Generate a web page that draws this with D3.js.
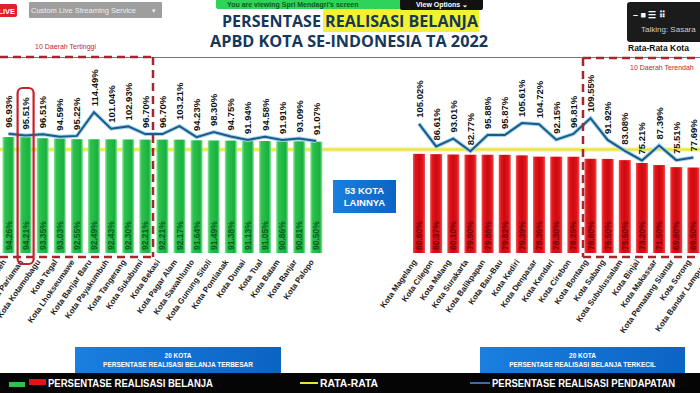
<!DOCTYPE html>
<html lang="en">
<head>
<meta charset="utf-8">
<title>Persentase Realisasi Belanja APBD Kota 2022</title>
<script src="https://cdn.jsdelivr.net/npm/d3@7"></script>
<style>
  body { margin: 0; background: #fff; }
  svg { display: block; font-family: "Liberation Sans", Arial, sans-serif; }
</style>
</head>
<body>
<script>
// 20 kota terbesar (kiri) - yang pertama terpotong di tepi layar
var topCities = ["Kota Banda Aceh", "Kota Pariaman", "Kota Kotamobagu", "Kota Tegal", "Kota Lhokseumawe",
  "Kota Banjar Baru", "Kota Payakumbuh", "Kota Tangerang", "Kota Sukabumi", "Kota Bekasi",
  "Kota Pagar Alam", "Kota Sawahlunto", "Kota Gunung Sitoli", "Kota Pontianak", "Kota Dumai",
  "Kota Tual", "Kota Batam", "Kota Banjar", "Kota Palopo"];
var topBelanja = [94.26, 94.21, 93.35, 93.03, 92.55, 92.49, 92.43, 92.30, 92.21, 92.21,
  92.17, 91.64, 91.49, 91.38, 91.13, 91.05, 90.86, 90.81, 90.50];
var topPendapatan = [96.93, 95.51, 96.51, 94.59, 95.22, 114.49, 101.04, 102.93, 96.70, 96.70,
  103.21, 94.23, 98.30, 94.75, 91.94, 94.58, 91.91, 93.09, 91.07];

// 20 kota terkecil (kanan) - sebagian terpotong di tepi kanan
var lowCities = ["Kota Magelang", "Kota Cilegon", "Kota Malang", "Kota Surakarta", "Kota Balikpapan",
  "Kota Bau-Bau", "Kota Kediri", "Kota Denpasar", "Kota Kendari", "Kota Cirebon",
  "Kota Bontang", "Kota Sabang", "Kota Subulussalam", "Kota Binjai", "Kota Makassar",
  "Kota Pematang Siantar", "Kota Sorong", "Kota Bandar Lampung"];
var lowBelanja = [80.60, 80.37, 80.10, 79.90, 79.88, 79.82, 79.39, 78.36, 78.30, 78.25,
  76.60, 76.50, 75.50, 73.20, 71.50, 69.80, 69.50];
var lowPendapatan = [105.02, 86.61, 93.01, 82.77, 95.88, 95.87, 105.61, 104.72, 92.15, 96.81,
  109.55, 91.92, 83.08, 75.21, 87.39, 75.51, 77.69];

var rataRata = 84.15;

var w = 700, h = 393;
var svg = d3.select("body").append("svg").attr("width", w).attr("height", h);
var defs = svg.append("defs");

function grad(id, stops) {
  var g = defs.append("linearGradient").attr("id", id)
    .attr("x1", 0).attr("x2", 1).attr("y1", 0).attr("y2", 0);
  stops.forEach(function(s) {
    g.append("stop").attr("offset", s[0]).attr("stop-color", s[1]);
  });
}
grad("gGreen", [[0, "#8fe6a0"], [0.2, "#2cc24c"], [0.8, "#19b03e"], [1, "#8fe6a0"]]);
grad("gRed", [[0, "#f25050"], [0.2, "#e4121a"], [0.5, "#c80c10"], [0.8, "#e4121a"], [1, "#f25050"]]);
grad("gBlue", [[0, "#1a7fe0"], [1, "#0b64c4"]]);

var y = d3.scaleLinear().domain([0, 100]).range([253, 130]);
var xTop = d3.scalePoint().domain(topCities).range([8.5, 8.5 + 18 * 17.1]);
var xLow = d3.scalePoint().domain(lowCities).range([419, 419 + 17 * 17.15]);
var barW = 12;

// garis abu di bawah judul
svg.append("line").attr("x1", 0).attr("x2", w).attr("y1", 57.5).attr("y2", 57.5)
  .attr("stroke", "#777").attr("stroke-width", 1);

// garis rata-rata
svg.append("line").attr("x1", 0).attr("x2", w).attr("y1", y(rataRata)).attr("y2", y(rataRata))
  .attr("stroke", "#f4f46a").attr("stroke-width", 5).attr("opacity", 0.6);
svg.append("line").attr("x1", 0).attr("x2", w).attr("y1", y(rataRata)).attr("y2", y(rataRata))
  .attr("stroke", "#e6e62a").attr("stroke-width", 2);

function drawGroup(cities, belanja, pendapatan, x, fill, txtColor) {
  var data = belanja.map(function(v, i) {
    return { name: cities[i], bel: v, pen: pendapatan[i] };
  });
  var g = svg.append("g");
  g.selectAll("rect.bar").data(data).enter().append("rect")
    .attr("class", "bar")
    .attr("x", function(d) { return x(d.name) - barW / 2; })
    .attr("y", function(d) { return y(d.bel); })
    .attr("width", barW)
    .attr("height", function(d) { return y(0) - y(d.bel); })
    .attr("fill", fill);
  // nilai di dalam batang
  g.selectAll("text.inbar").data(data).enter().append("text")
    .attr("class", "inbar")
    .attr("transform", function(d) { return "translate(" + (x(d.name) + 3) + ",250) rotate(-90)"; })
    .attr("font-size", 8.5).attr("font-weight", "bold")
    .attr("fill", txtColor).attr("opacity", 0.75)
    .text(function(d) { return d.bel.toFixed(2) + "%"; });
  // garis pendapatan
  var line = d3.line().x(function(d) { return x(d.name); }).y(function(d) { return y(d.pen); });
  g.append("path").datum(data).attr("d", line).attr("fill", "none")
    .attr("stroke", "#9fd4f0").attr("stroke-width", 4);
  g.append("path").datum(data).attr("d", line).attr("fill", "none")
    .attr("stroke", "#1d5a86").attr("stroke-width", 2);
  // label pendapatan
  g.selectAll("text.pen").data(data).enter().append("text")
    .attr("class", "pen")
    .attr("transform", function(d) { return "translate(" + (x(d.name) + 3.5) + "," + (y(d.pen) - 6) + ") rotate(-90)"; })
    .attr("font-size", 9.5).attr("font-weight", "bold").attr("fill", "#111")
    .text(function(d) { return d.pen.toFixed(2) + "%"; });
  // nama kota
  g.selectAll("text.city").data(cities).enter().append("text")
    .attr("class", "city")
    .attr("text-anchor", "end")
    .attr("transform", function(d) { return "translate(" + (x(d) - 2) + ",262) rotate(-55)"; })
    .attr("font-size", 8).attr("font-weight", "bold").attr("fill", "#222")
    .text(function(d) { return d; });
}
drawGroup(topCities, topBelanja, topPendapatan, xTop, "url(#gGreen)", "#063d14");
drawGroup(lowCities, lowBelanja, lowPendapatan, xLow, "url(#gRed)", "#5a0408");

// kotak putus-putus
var dash = { stroke: "#a3272d", width: 2.5, arr: "8,5" };
function dline(x1, y1, x2, y2) {
  svg.append("line").attr("x1", x1).attr("y1", y1).attr("x2", x2).attr("y2", y2)
    .attr("stroke", dash.stroke).attr("stroke-width", dash.width).attr("stroke-dasharray", dash.arr);
}
dline(0, 57, 153, 57); dline(153, 57, 153, 257); dline(0, 257, 153, 257);
dline(583, 58, 700, 58); dline(583, 58, 583, 257); dline(583, 257, 700, 257);
svg.append("text").attr("x", 35).attr("y", 49).attr("font-size", 7).attr("fill", "#c0282e").text("10 Daerah Tertinggi");
svg.append("text").attr("x", 630).attr("y", 70).attr("font-size", 7).attr("fill", "#c0282e").text("10 Daerah Terendah");

// sorotan Kota Pariaman
svg.append("rect").attr("x", xTop("Kota Pariaman") - 8).attr("y", 88).attr("width", 16).attr("height", 176)
  .attr("rx", 5).attr("fill", "none").attr("stroke", "#c8202a").attr("stroke-width", 2.2);

// judul
svg.append("rect").attr("x", 323).attr("y", 9).attr("width", 156).attr("height", 23).attr("fill", "#f2f230");
svg.append("text").attr("x", 350).attr("y", 27).attr("text-anchor", "middle")
  .attr("font-family", "Open Sans, sans-serif").attr("font-weight", "bold").attr("font-size", 15.5).attr("fill", "#16375a")
  .attr("textLength", 256).attr("lengthAdjust", "spacingAndGlyphs")
  .text("PERSENTASE REALISASI BELANJA");
svg.append("text").attr("x", 349).attr("y", 47).attr("text-anchor", "middle")
  .attr("font-family", "Open Sans, sans-serif").attr("font-weight", "bold").attr("font-size", 15.5).attr("fill", "#16375a")
  .attr("textLength", 278).attr("lengthAdjust", "spacingAndGlyphs")
  .text("APBD KOTA SE-INDONESIA TA 2022");

// kotak biru
function blueBox(x0, y0, bw, bh, lines, fs, gap) {
  svg.append("rect").attr("x", x0).attr("y", y0).attr("width", bw).attr("height", bh).attr("fill", "url(#gBlue)");
  lines.forEach(function(t, i) {
    svg.append("text").attr("x", x0 + bw / 2).attr("y", y0 + bh / 2 + (i - (lines.length - 1) / 2) * gap + fs * 0.35)
      .attr("text-anchor", "middle").attr("font-size", fs).attr("font-weight", "bold").attr("fill", "#fff").text(t);
  });
}
blueBox(333, 180, 63, 33, ["53 KOTA", "LAINNYA"], 9.5, 12);
blueBox(75, 347, 206, 26, ["20 KOTA", "PERSENTASE REALISASI BELANJA TERBESAR"], 6.5, 9);
blueBox(480, 347, 205, 26, ["20 KOTA", "PERSENTASE REALISASI BELANJA TERKECIL"], 6.5, 9);

// legenda
svg.append("rect").attr("x", 0).attr("y", 373).attr("width", w).attr("height", 20).attr("fill", "#050505");
svg.append("rect").attr("x", 9).attr("y", 382).attr("width", 16).attr("height", 5).attr("fill", "#2cc24c");
svg.append("rect").attr("x", 29).attr("y", 379).attr("width", 17).attr("height", 6).attr("fill", "#e4121a");
svg.append("line").attr("x1", 300).attr("x2", 318).attr("y1", 383).attr("y2", 383).attr("stroke", "#e6e62a").attr("stroke-width", 2);
svg.append("line").attr("x1", 470).attr("x2", 490).attr("y1", 383).attr("y2", 383).attr("stroke", "#3a6ab0").attr("stroke-width", 2);
[["PERSENTASE REALISASI BELANJA", 48, 165], ["RATA-RATA", 320, 58], ["PERSENTASE REALISASI PENDAPATAN", 492, 183]].forEach(function(l) {
  svg.append("text").attr("x", l[1]).attr("y", 387).attr("font-size", 10).attr("font-weight", "bold")
    .attr("textLength", l[2]).attr("lengthAdjust", "spacingAndGlyphs")
    .attr("fill", "#fff").text(l[0]);
});

// elemen layar zoom
svg.append("rect").attr("x", -12).attr("y", 4).attr("width", 29).attr("height", 13).attr("rx", 2).attr("fill", "#e0202a");
svg.append("text").attr("x", 15).attr("y", 14).attr("text-anchor", "end").attr("font-size", 7.5).attr("font-weight", "bold").attr("fill", "#fff").text("LIVE");
svg.append("rect").attr("x", 29).attr("y", 2).attr("width", 133).attr("height", 16).attr("rx", 1).attr("fill", "#9e9e9e");
svg.append("text").attr("x", 31).attr("y", 13).attr("font-size", 7.5).attr("fill", "#eee").text("Custom Live Streaming Service");
svg.append("text").attr("x", 152).attr("y", 13).attr("font-size", 7).attr("fill", "#eee").text("▾");
svg.append("rect").attr("x", 216).attr("y", -2).attr("width", 186).attr("height", 11).attr("rx", 2).attr("fill", "#2fd35a");
svg.append("text").attr("x", 227).attr("y", 6.5).attr("font-size", 7).attr("font-weight", "bold").attr("fill", "#0c5a1c").text("You are viewing Spri Mendagri's screen");
svg.append("rect").attr("x", 400).attr("y", -2).attr("width", 83).attr("height", 12).attr("rx", 2).attr("fill", "#111");
svg.append("text").attr("x", 416).attr("y", 7).attr("font-size", 7).attr("font-weight", "bold").attr("fill", "#fff").text("View Options ⌄");
svg.append("rect").attr("x", 627).attr("y", 2).attr("width", 80).attr("height", 40).attr("rx", 3).attr("fill", "#1b1b1b");
svg.append("text").attr("x", 633).attr("y", 18).attr("font-size", 9).attr("font-weight", "bold").attr("fill", "#fff").text("–  ■  ☰  ⠿");
svg.append("text").attr("x", 641).attr("y", 32).attr("font-size", 8).attr("fill", "#ccc").text("Talking: Sasara");
svg.append("text").attr("x", 628).attr("y", 51).attr("font-size", 8.5).attr("font-weight", "bold").attr("fill", "#111").text("Rata-Rata Kota");
</script>
</body>
</html>
